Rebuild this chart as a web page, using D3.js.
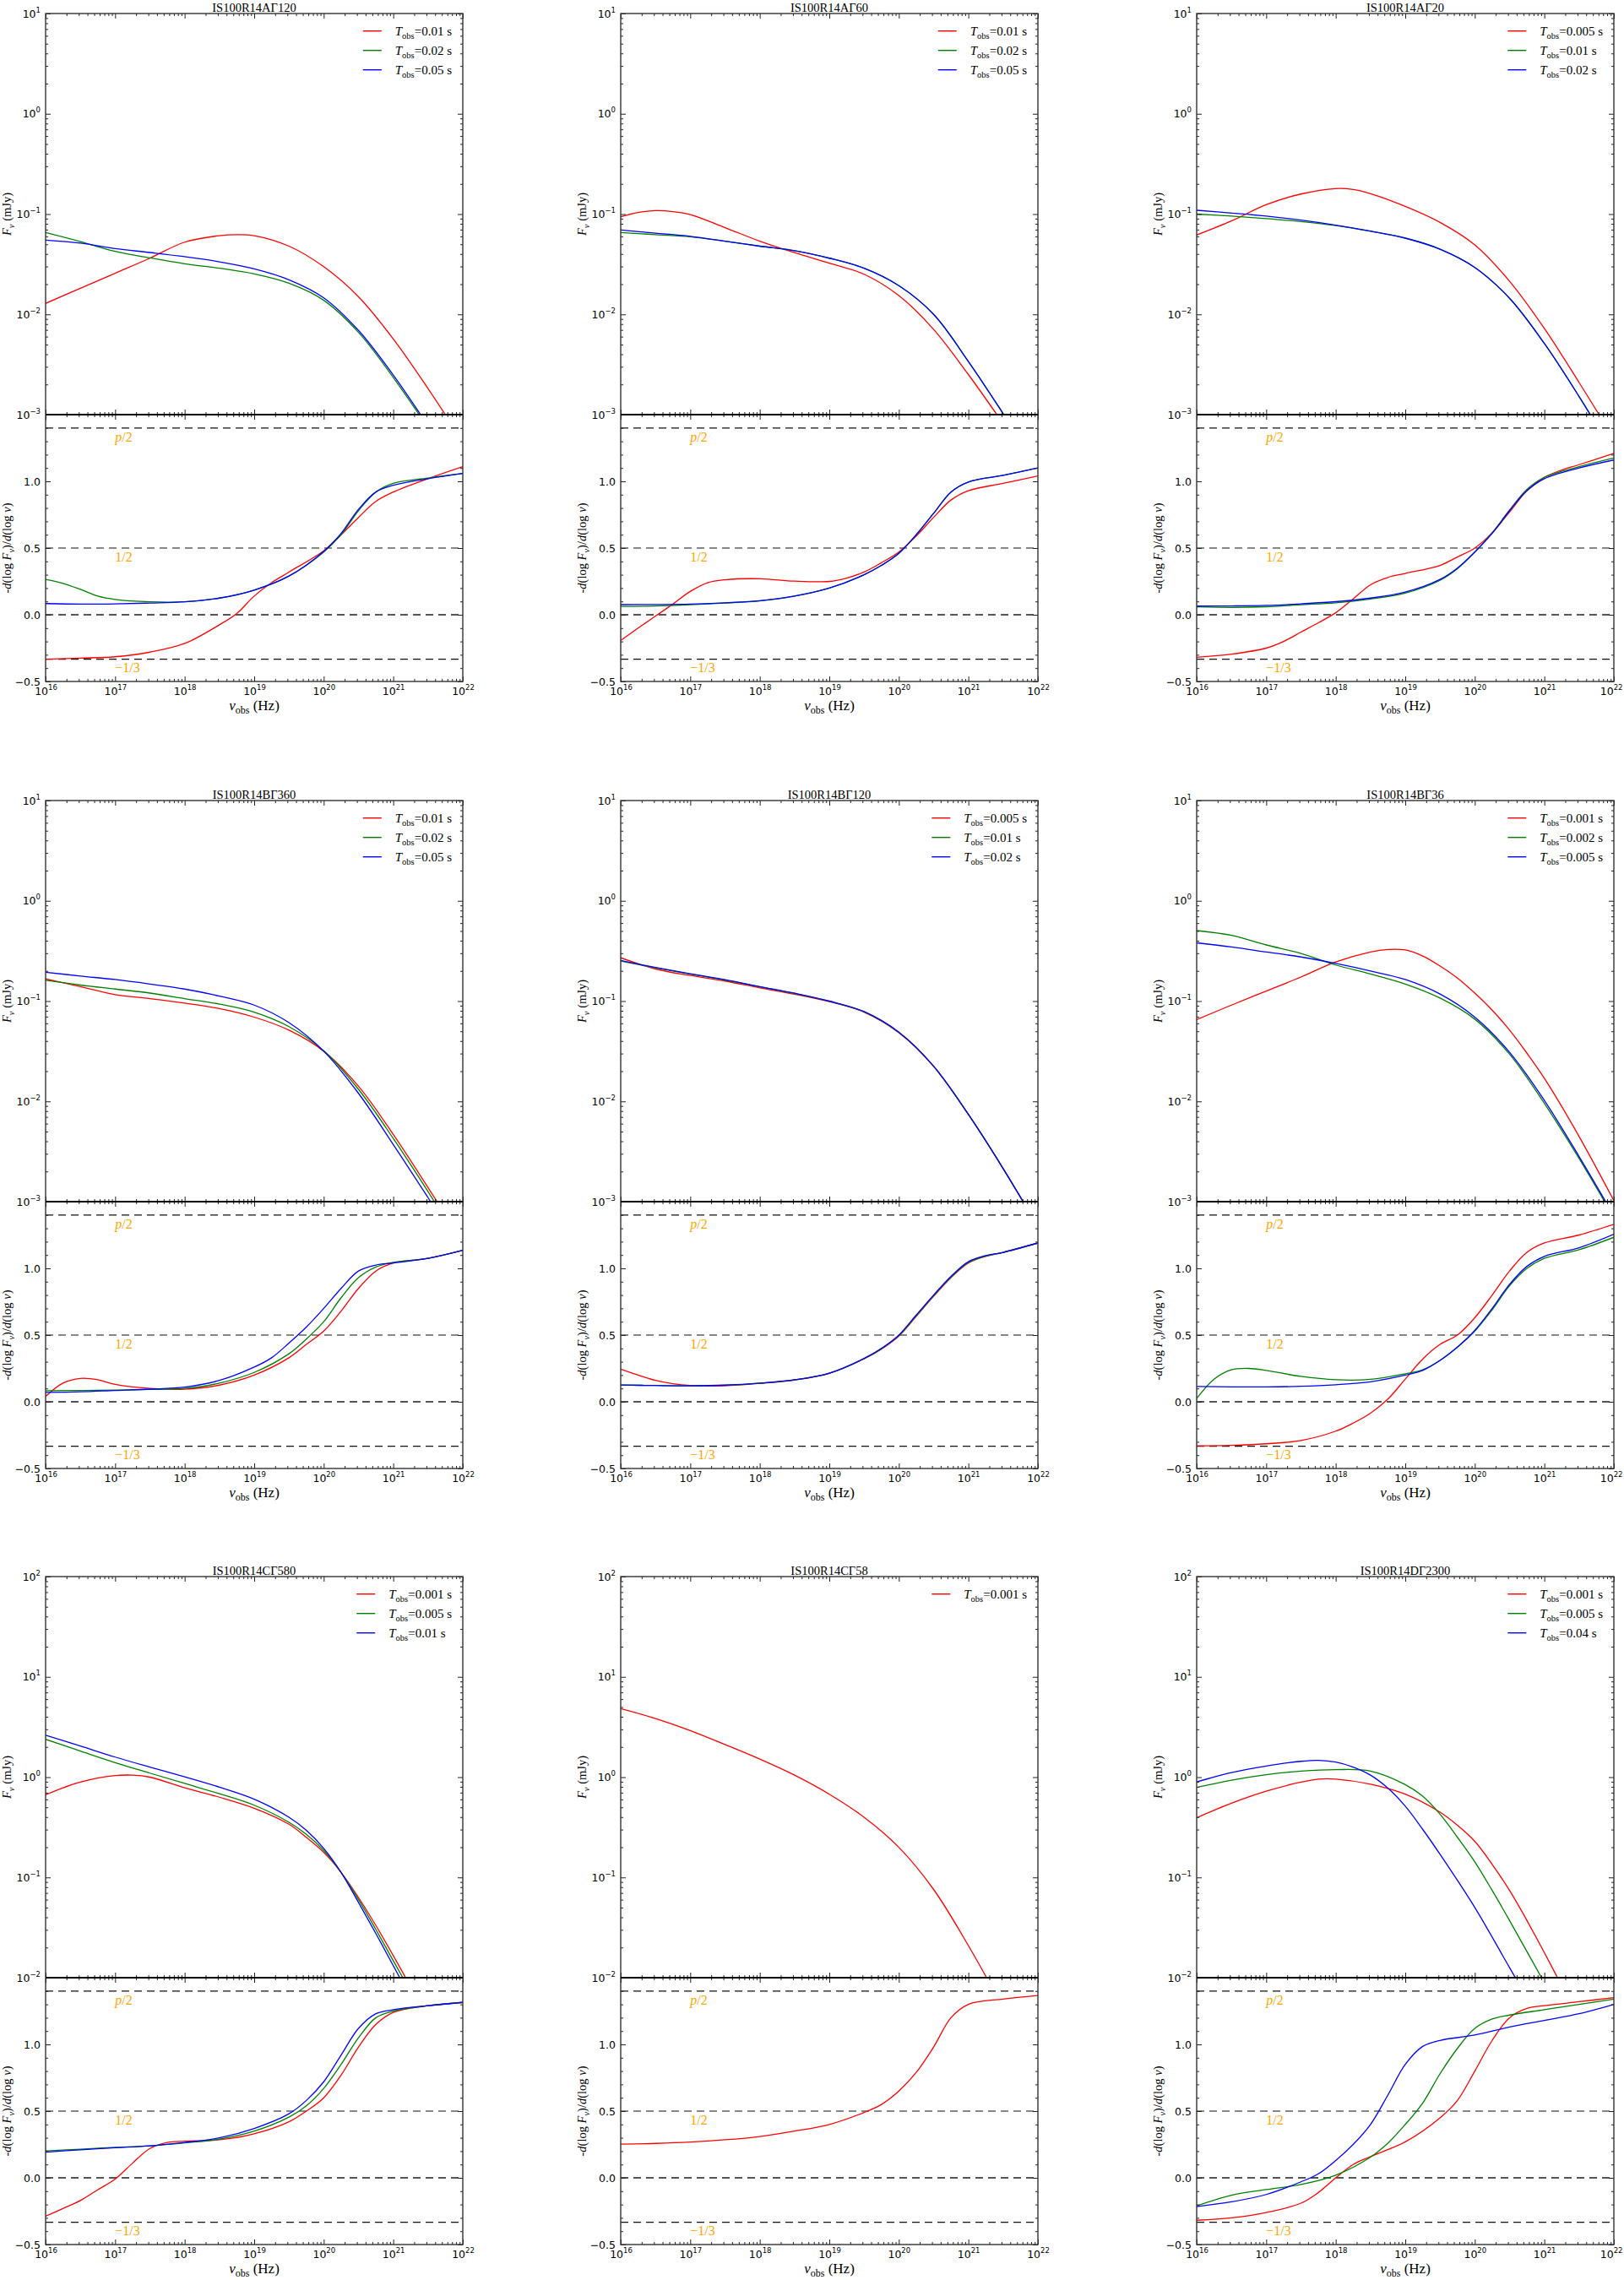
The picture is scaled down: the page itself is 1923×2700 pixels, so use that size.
<!DOCTYPE html>
<html><head><meta charset="utf-8">
<script src="https://cdn.jsdelivr.net/npm/d3@7"></script>
<style>body{margin:0;background:#fff}</style>
</head><body>
<svg id="c" width="1923" height="2700"></svg>
<script>
// ---------------- DATA ----------------
// each series: [log10(nu/Hz), value]; flux values are log10(F_nu / mJy)
const panelTitles = ["IS100R14A\u0393120","IS100R14A\u039360","IS100R14A\u039320",
  "IS100R14B\u0393360","IS100R14B\u0393120","IS100R14B\u039336",
  "IS100R14C\u0393580","IS100R14C\u039358","IS100R14D\u03932300"];
const panelTimes = [["0.01","0.02","0.05"],["0.01","0.02","0.05"],["0.005","0.01","0.02"],
  ["0.01","0.02","0.05"],["0.005","0.01","0.02"],["0.001","0.002","0.005"],
  ["0.001","0.005","0.01"],["0.001"],["0.001","0.005","0.04"]];
const fluxDomains = [[1e-3,1e1],[1e-3,1e1],[1e-3,1e1],[1e-3,1e1],[1e-3,1e1],[1e-3,1e1],[1e-2,1e2],[1e-2,1e2],[1e-2,1e2]];
const xTickExponents = [16,17,18,19,20,21,22];
const slopeTicks = [-0.5,0.0,0.5,1.0];
const refLineValues = [1.4, 0.5, 0.0, -1/3];
const refLineLabels = ["p/2","1/2","","\u22121/3"];
const seriesColors = ["#ff0000","#008000","#0000ff"];

const fluxA120 = [
 [[16,-1.891],[16.5,-1.74],[17,-1.59],[17.5,-1.44],[18,-1.28],[18.5,-1.215],[18.75,-1.205],[19,-1.215],[19.5,-1.32],[20,-1.525],[20.5,-1.825],[21,-2.245],[21.5,-2.74],[22,-3.27]],
 [[16,-1.184],[16.5,-1.274],[17,-1.372],[17.5,-1.437],[18,-1.496],[18.5,-1.54],[19,-1.597],[19.5,-1.69],[20,-1.86],[20.5,-2.18],[21,-2.63],[21.5,-3.13],[22,-3.65]],
 [[16,-1.26],[16.5,-1.29],[17,-1.344],[17.5,-1.383],[18,-1.425],[18.5,-1.476],[19,-1.546],[19.5,-1.655],[20,-1.835],[20.5,-2.16],[21,-2.605],[21.5,-3.11],[22,-3.63]]];
const slopeA120 = [
 [[16,-0.333],[16.5,-0.325],[17,-0.315],[17.5,-0.28],[18,-0.215],[18.5,-0.075],[18.75,0.01],[19,0.14],[19.25,0.24],[19.5,0.32],[20,0.48],[20.25,0.6],[20.5,0.73],[20.75,0.85],[21,0.92],[21.5,1.02],[22,1.11]],
 [[16,0.265],[16.25,0.235],[16.5,0.19],[16.75,0.14],[17,0.115],[17.5,0.097],[18,0.097],[18.5,0.125],[19,0.185],[19.5,0.29],[20,0.47],[20.25,0.6],[20.5,0.78],[20.75,0.92],[21,0.985],[21.5,1.025],[22,1.06]],
 [[16,0.084],[16.5,0.08],[17,0.082],[17.5,0.088],[18,0.097],[18.5,0.125],[19,0.185],[19.5,0.29],[20,0.475],[20.25,0.61],[20.5,0.79],[20.75,0.92],[21,0.97],[21.5,1.02],[22,1.06]]];

const fluxA60 = [
 [[16,-1.027],[16.25,-0.985],[16.5,-0.966],[16.75,-0.975],[17,-1.005],[17.5,-1.135],[18,-1.27],[18.5,-1.385],[19,-1.49],[19.5,-1.6],[20,-1.813],[20.5,-2.15],[21,-2.6],[21.5,-3.09],[22,-3.6]],
 [[16,-1.184],[16.5,-1.205],[17,-1.226],[17.5,-1.27],[18,-1.32],[18.5,-1.365],[19,-1.44],[19.5,-1.54],[20,-1.714],[20.5,-2.0],[21,-2.47],[21.5,-2.99],[22,-3.53]],
 [[16,-1.159],[16.5,-1.19],[17,-1.222],[17.5,-1.27],[18,-1.32],[18.5,-1.365],[19,-1.44],[19.5,-1.54],[20,-1.714],[20.5,-2.0],[21,-2.47],[21.5,-2.99],[22,-3.53]]];
const slopeA60 = [
 [[16,-0.193],[16.25,-0.1],[16.5,-0.01],[16.75,0.08],[17,0.175],[17.25,0.24],[17.5,0.262],[18,0.27],[18.5,0.252],[19,0.25],[19.25,0.275],[19.5,0.32],[19.75,0.39],[20,0.47],[20.25,0.59],[20.5,0.73],[20.75,0.86],[21,0.93],[21.5,0.985],[22,1.04]],
 [[16,0.063],[16.5,0.066],[17,0.075],[17.5,0.088],[18,0.104],[18.5,0.14],[19,0.2],[19.5,0.3],[19.75,0.37],[20,0.46],[20.25,0.6],[20.5,0.76],[20.75,0.92],[21,0.995],[21.5,1.045],[22,1.1]],
 [[16,0.076],[16.5,0.077],[17,0.08],[17.5,0.09],[18,0.105],[18.5,0.14],[19,0.2],[19.5,0.3],[19.75,0.37],[20,0.46],[20.25,0.6],[20.5,0.76],[20.75,0.92],[21,0.995],[21.5,1.045],[22,1.1]]];

const fluxA20 = [
 [[16,-1.209],[16.5,-1.069],[17,-0.906],[17.5,-0.8],[18,-0.746],[18.25,-0.755],[18.5,-0.796],[19,-0.923],[19.5,-1.083],[20,-1.307],[20.5,-1.67],[21,-2.14],[21.5,-2.68],[22,-3.24]],
 [[16,-1.0],[16.5,-1.02],[17,-1.045],[17.5,-1.075],[18,-1.115],[18.5,-1.172],[19,-1.24],[19.5,-1.35],[20,-1.532],[20.5,-1.84],[21,-2.29],[21.5,-2.82],[22,-3.39]],
 [[16,-0.962],[16.5,-0.99],[17,-1.02],[17.5,-1.06],[18,-1.11],[18.5,-1.17],[19,-1.24],[19.5,-1.35],[20,-1.532],[20.5,-1.84],[21,-2.29],[21.5,-2.82],[22,-3.39]]];
const slopeA20 = [
 [[16,-0.319],[16.5,-0.295],[17,-0.25],[17.25,-0.2],[17.5,-0.13],[17.75,-0.06],[18,0.015],[18.25,0.118],[18.5,0.225],[18.75,0.28],[19,0.31],[19.5,0.37],[19.75,0.433],[20,0.5],[20.25,0.615],[20.5,0.77],[20.75,0.93],[21,1.03],[21.25,1.085],[21.5,1.125],[22,1.21]],
 [[16,0.059],[16.5,0.055],[17,0.06],[17.5,0.075],[18,0.09],[18.5,0.118],[19,0.162],[19.5,0.258],[19.75,0.345],[20,0.47],[20.25,0.615],[20.5,0.785],[20.75,0.94],[21,1.03],[21.5,1.11],[22,1.175]],
 [[16,0.065],[16.5,0.066],[17,0.07],[17.5,0.082],[18,0.098],[18.5,0.125],[19,0.17],[19.5,0.265],[19.75,0.35],[20,0.47],[20.25,0.61],[20.5,0.78],[20.75,0.93],[21,1.02],[21.5,1.1],[22,1.16]]];

const fluxB360 = [
 [[16,-0.779],[16.5,-0.855],[17,-0.935],[17.5,-0.975],[18,-1.02],[18.5,-1.075],[19,-1.16],[19.5,-1.29],[20,-1.5],[20.5,-1.85],[21,-2.33],[21.5,-2.86],[22,-3.4]],
 [[16,-0.793],[16.5,-0.84],[17,-0.88],[17.5,-0.92],[18,-0.975],[18.5,-1.03],[19,-1.11],[19.5,-1.255],[20,-1.495],[20.5,-1.88],[21,-2.37],[21.5,-2.9],[22,-3.45]],
 [[16,-0.712],[16.5,-0.75],[17,-0.785],[17.5,-0.83],[18,-0.88],[18.5,-0.95],[19,-1.04],[19.5,-1.215],[20,-1.5],[20.5,-1.92],[21,-2.43],[21.5,-2.96],[22,-3.5]]];
const slopeB360 = [
 [[16,0.04],[16.25,0.14],[16.5,0.175],[16.75,0.165],[17,0.13],[17.5,0.1],[18,0.095],[18.5,0.125],[19,0.2],[19.5,0.33],[19.75,0.43],[20,0.53],[20.25,0.68],[20.5,0.85],[20.75,0.98],[21,1.04],[21.5,1.075],[22,1.135]],
 [[16,0.083],[16.5,0.085],[17,0.088],[17.5,0.092],[18,0.1],[18.5,0.14],[19,0.22],[19.5,0.36],[19.75,0.47],[20,0.6],[20.25,0.78],[20.5,0.93],[20.75,1.01],[21,1.045],[21.5,1.075],[22,1.135]],
 [[16,0.07],[16.5,0.075],[17,0.085],[17.5,0.095],[18,0.11],[18.5,0.16],[19,0.26],[19.25,0.33],[19.5,0.44],[19.75,0.56],[20,0.7],[20.25,0.85],[20.5,0.98],[20.75,1.025],[21,1.04],[21.5,1.075],[22,1.135]]];

const fluxB120 = [
 [[16,-0.568],[16.5,-0.68],[17,-0.745],[17.5,-0.8],[18,-0.868],[18.5,-0.932],[19,-1.006],[19.5,-1.11],[20,-1.315],[20.5,-1.65],[21,-2.13],[21.5,-2.67],[22,-3.25]],
 [[16,-0.6],[16.5,-0.668],[17,-0.731],[17.5,-0.79],[18,-0.858],[18.5,-0.924],[19,-1.002],[19.5,-1.107],[20,-1.312],[20.5,-1.65],[21,-2.13],[21.5,-2.67],[22,-3.25]],
 [[16,-0.595],[16.5,-0.665],[17,-0.728],[17.5,-0.787],[18,-0.855],[18.5,-0.922],[19,-1.0],[19.5,-1.105],[20,-1.31],[20.5,-1.65],[21,-2.13],[21.5,-2.67],[22,-3.25]]];
const slopeB120 = [
 [[16,0.245],[16.25,0.2],[16.5,0.16],[16.75,0.135],[17,0.122],[17.5,0.12],[18,0.138],[18.5,0.163],[19,0.213],[19.5,0.322],[19.75,0.395],[20,0.492],[20.25,0.64],[20.5,0.79],[20.75,0.93],[21,1.04],[21.25,1.09],[21.5,1.12],[22,1.19]],
 [[16,0.126],[16.5,0.122],[17,0.12],[17.5,0.124],[18,0.139],[18.5,0.164],[19,0.214],[19.5,0.323],[19.75,0.398],[20,0.496],[20.25,0.645],[20.5,0.795],[20.75,0.935],[21,1.045],[21.25,1.092],[21.5,1.12],[22,1.19]],
 [[16,0.126],[16.5,0.122],[17,0.12],[17.5,0.125],[18,0.14],[18.5,0.165],[19,0.215],[19.5,0.325],[19.75,0.4],[20,0.5],[20.25,0.65],[20.5,0.8],[20.75,0.94],[21,1.05],[21.25,1.095],[21.5,1.12],[22,1.19]]];

const fluxB36 = [
 [[16,-1.185],[16.5,-1.04],[17,-0.9],[17.5,-0.76],[18,-0.61],[18.5,-0.51],[18.75,-0.485],[19,-0.49],[19.25,-0.55],[19.5,-0.65],[19.75,-0.77],[20,-0.92],[20.25,-1.09],[20.5,-1.29],[20.75,-1.52],[21,-1.77],[21.5,-2.35],[22,-2.99]],
 [[16,-0.297],[16.5,-0.345],[17,-0.44],[17.5,-0.525],[18,-0.64],[18.5,-0.73],[19,-0.83],[19.5,-0.97],[20,-1.18],[20.5,-1.53],[21,-2.02],[21.5,-2.57],[22,-3.16]],
 [[16,-0.419],[16.5,-0.46],[17,-0.51],[17.5,-0.56],[18,-0.625],[18.5,-0.7],[19,-0.785],[19.5,-0.93],[20,-1.16],[20.5,-1.51],[21,-1.99],[21.5,-2.55],[22,-3.14]]];
const slopeB36 = [
 [[16,-0.33],[16.5,-0.327],[17,-0.315],[17.5,-0.29],[18,-0.22],[18.25,-0.16],[18.5,-0.085],[18.75,0.02],[19,0.17],[19.25,0.32],[19.5,0.43],[19.75,0.5],[20,0.63],[20.25,0.8],[20.5,0.98],[20.75,1.12],[21,1.19],[21.5,1.25],[22,1.33]],
 [[16,0.025],[16.25,0.17],[16.5,0.24],[16.75,0.25],[17,0.235],[17.5,0.19],[18,0.165],[18.5,0.168],[19,0.21],[19.25,0.24],[19.5,0.31],[19.75,0.41],[20,0.53],[20.25,0.69],[20.5,0.87],[20.75,1.0],[21,1.075],[21.5,1.14],[22,1.233]],
 [[16,0.115],[16.5,0.112],[17,0.112],[17.5,0.116],[18,0.128],[18.5,0.15],[19,0.2],[19.25,0.235],[19.5,0.31],[19.75,0.41],[20,0.535],[20.25,0.7],[20.5,0.88],[20.75,1.015],[21,1.09],[21.5,1.155],[22,1.256]]];

const fluxC580 = [
 [[16,-0.176],[16.5,-0.05],[17,0.015],[17.25,0.02],[17.5,0.0],[18,-0.107],[18.5,-0.2],[19,-0.31],[19.5,-0.47],[19.75,-0.6],[20,-0.75],[20.25,-0.95],[20.5,-1.2],[20.75,-1.48],[21,-1.78],[21.5,-2.4]],
 [[16,0.377],[16.5,0.26],[17,0.145],[17.5,0.04],[18,-0.063],[18.5,-0.165],[19,-0.28],[19.5,-0.45],[19.75,-0.57],[20,-0.73],[20.25,-0.95],[20.5,-1.22],[20.75,-1.52],[21,-1.83],[21.5,-2.45]],
 [[16,0.418],[16.5,0.31],[17,0.2],[17.5,0.1],[18,0.003],[18.5,-0.1],[19,-0.22],[19.5,-0.4],[19.75,-0.53],[20,-0.71],[20.25,-0.95],[20.5,-1.25],[20.75,-1.56],[21,-1.88],[21.5,-2.52]]];
const slopeC580 = [
 [[16,-0.288],[16.25,-0.23],[16.5,-0.17],[16.75,-0.09],[17,-0.01],[17.25,0.11],[17.5,0.22],[17.75,0.265],[18,0.275],[18.5,0.285],[19,0.33],[19.5,0.42],[19.75,0.5],[20,0.6],[20.25,0.77],[20.5,0.98],[20.75,1.15],[21,1.24],[21.5,1.29],[22,1.315]],
 [[16,0.202],[16.5,0.215],[17,0.228],[17.5,0.24],[18,0.262],[18.5,0.29],[19,0.35],[19.5,0.455],[19.75,0.54],[20,0.67],[20.25,0.85],[20.5,1.05],[20.75,1.2],[21,1.25],[21.5,1.29],[22,1.315]],
 [[16,0.192],[16.5,0.21],[17,0.225],[17.5,0.24],[18,0.265],[18.5,0.3],[19,0.37],[19.5,0.48],[19.75,0.58],[20,0.72],[20.25,0.92],[20.5,1.12],[20.75,1.23],[21,1.26],[21.5,1.29],[22,1.315]]];

const fluxC58 = [
 [[16,0.683],[16.5,0.585],[17,0.465],[17.5,0.325],[18,0.18],[18.5,0.02],[19,-0.17],[19.5,-0.4],[20,-0.7],[20.5,-1.12],[21,-1.68],[21.5,-2.3]]];
const slopeC58 = [
 [[16,0.253],[16.5,0.258],[17,0.268],[17.5,0.285],[18,0.31],[18.5,0.35],[19,0.4],[19.5,0.49],[19.75,0.55],[20,0.65],[20.25,0.79],[20.5,0.98],[20.75,1.2],[21,1.3],[21.5,1.34],[22,1.366]]];

const fluxD2300 = [
 [[16,-0.405],[16.5,-0.26],[17,-0.14],[17.5,-0.05],[17.75,-0.02],[18,-0.02],[18.5,-0.07],[19,-0.17],[19.5,-0.35],[19.75,-0.48],[20,-0.64],[20.25,-0.87],[20.5,-1.13],[20.75,-1.43],[21,-1.75],[21.25,-2.08],[21.5,-2.4]],
 [[16,-0.103],[16.5,-0.03],[17,0.025],[17.5,0.06],[18,0.075],[18.5,0.06],[19,-0.075],[19.25,-0.19],[19.5,-0.37],[19.75,-0.6],[20,-0.845],[20.25,-1.13],[20.5,-1.43],[20.75,-1.74],[21,-2.05],[21.5,-2.68]],
 [[16,-0.048],[16.5,0.045],[17,0.11],[17.5,0.158],[17.75,0.168],[18,0.15],[18.25,0.1],[18.5,0.02],[18.75,-0.11],[19,-0.29],[19.25,-0.52],[19.5,-0.77],[20,-1.3],[20.5,-1.9],[21,-2.5]]];
const slopeD2300 = [
 [[16,-0.318],[16.5,-0.3],[17,-0.26],[17.5,-0.19],[17.75,-0.11],[18,0.0],[18.25,0.1],[18.5,0.16],[19,0.27],[19.5,0.45],[19.75,0.58],[20,0.8],[20.25,1.03],[20.5,1.2],[20.75,1.27],[21,1.29],[21.5,1.32],[22,1.35]],
 [[16,-0.21],[16.5,-0.13],[17,-0.088],[17.5,-0.05],[18,0.02],[18.5,0.155],[18.75,0.26],[19,0.4],[19.25,0.56],[19.5,0.78],[19.75,0.97],[20,1.12],[20.25,1.19],[20.5,1.22],[21,1.26],[21.5,1.3],[22,1.34]],
 [[16,-0.216],[16.5,-0.18],[17,-0.125],[17.5,-0.03],[17.75,0.03],[18,0.13],[18.25,0.25],[18.5,0.4],[18.75,0.62],[19,0.85],[19.25,0.985],[19.5,1.03],[20,1.07],[20.5,1.13],[21,1.18],[21.5,1.23],[22,1.3]]];

const panelFlux = [fluxA120, fluxA60, fluxA20, fluxB360, fluxB120, fluxB36, fluxC580, fluxC58, fluxD2300];
const panelSlope = [slopeA120, slopeA60, slopeA20, slopeB360, slopeB120, slopeB36, slopeC580, slopeC58, slopeD2300];

// ---------------- LAYOUT ----------------
const W = 494, HT = 475, HB = 316;
const colX = [54, 735, 1417];
const rowY = [16, 948, 1867];
const PAGE_W = 1923;
const serif = "'Liberation Serif','DejaVu Serif',serif";
const sans = "'DejaVu Sans',sans-serif";
const TICK_FS = 12.5;

const svg = d3.select("#c");
const defs = svg.append("defs");

function rich(textSel, parts) {
  parts.forEach(p => {
    const t = textSel.append("tspan").text(p.t);
    if (p.it) t.attr("font-style", "italic");
    if (p.fs) t.attr("font-size", p.fs);
    if (p.dy !== undefined) t.attr("dy", p.dy);
  });
  return textSel;
}

function supLabels(g, fs) {
  g.selectAll(".tick text").each(function(d) {
    const e = Math.round(Math.log10(d));
    const t = d3.select(this);
    t.text("");
    t.append("tspan").text("10");
    t.append("tspan").text(e < 0 ? "\u2212" + (-e) : String(e))
      .attr("font-size", fs * 0.68).attr("dy", -fs * 0.48);
  });
}

function styleAxis(g) {
  g.select(".domain").remove();
  g.selectAll(".tick line").attr("stroke", "#222").attr("stroke-width", 1);
  g.selectAll(".tick text").attr("font-family", sans).attr("font-size", TICK_FS).attr("fill", "#000");
}

function decadeMinors(lo, hi) {
  const out = [];
  for (let e = lo; e < hi; e++) for (let k = 2; k <= 9; k++) out.push(k * Math.pow(10, e));
  return out;
}

panelTitles.forEach((title, pi) => {
  const col = pi % 3, row = Math.floor(pi / 3);
  const x0 = colX[col], y0 = rowY[row];
  const g = svg.append("g").attr("transform", `translate(${x0},${y0})`);

  const x = d3.scaleLog().domain([1e16, 1e22]).range([0, W]);
  const dom = fluxDomains[pi];
  const yF = d3.scaleLog().domain(dom).range([HT, 0]);
  const yS = d3.scaleLinear().domain([-0.5, 1.5]).range([HT + HB, HT]);

  const xMaj = xTickExponents.map(e => Math.pow(10, e));
  const xMin = decadeMinors(16, 22);
  const eLo = Math.round(Math.log10(dom[0])), eHi = Math.round(Math.log10(dom[1]));
  const yMaj = d3.range(eLo, eHi + 1).map(e => Math.pow(10, e));
  const yMin = decadeMinors(eLo, eHi);
  const sMin = d3.range(-5, 15).map(i => i / 10).filter(v => slopeTicks.indexOf(v) < 0);

  const cidT = "clipT" + pi, cidB = "clipB" + pi;
  defs.append("clipPath").attr("id", cidT).append("rect").attr("x", 0).attr("y", 0).attr("width", W).attr("height", HT);
  defs.append("clipPath").attr("id", cidB).append("rect").attr("x", 0).attr("y", HT).attr("width", W).attr("height", HB);

  // reference dashed lines (bottom subplot)
  const refG = g.append("g").attr("clip-path", `url(#${cidB})`);
  refLineValues.forEach((v) => {
    refG.append("line").attr("x1", 0).attr("x2", W).attr("y1", yS(v)).attr("y2", yS(v))
      .attr("stroke", v === 0 ? "#555" : "#111").attr("stroke-width", v === 0 ? 2 : 1.2)
      .attr("stroke-dasharray", "9,6");
  });
  refLineValues.forEach((v, i) => {
    const lab = refLineLabels[i];
    if (!lab) return;
    const t = g.append("text").attr("x", x(1e17)).attr("y", yS(v - 0.1))
      .attr("font-family", serif).attr("font-size", 16).attr("fill", "#FFA500");
    if (lab === "p/2") rich(t, [{t: "p", it: true}, {t: "/2"}]);
    else t.text(lab);
  });

  // curves
  const curve = d3.curveCatmullRom.alpha(0.5);
  const lineF = d3.line().x(d => x(Math.pow(10, d[0]))).y(d => yF(Math.pow(10, d[1]))).curve(curve);
  const lineS = d3.line().x(d => x(Math.pow(10, d[0]))).y(d => yS(d[1])).curve(curve);
  const gT = g.append("g").attr("clip-path", `url(#${cidT})`);
  const gB = g.append("g").attr("clip-path", `url(#${cidB})`);
  panelFlux[pi].forEach((s, si) => {
    gT.append("path").attr("d", lineF(s)).attr("fill", "none").attr("stroke", seriesColors[si]).attr("stroke-width", 1.3);
  });
  panelSlope[pi].forEach((s, si) => {
    gB.append("path").attr("d", lineS(s)).attr("fill", "none").attr("stroke", seriesColors[si]).attr("stroke-width", 1.3);
  });

  // x axes: top, divider (both sides), bottom
  const mkX = (gen, vals, size, yPos, labels) => {
    const a = g.append("g").attr("transform", `translate(0,${yPos})`)
      .call(gen(x).tickValues(vals).tickSizeInner(size).tickSizeOuter(0).tickPadding(7).tickFormat(labels ? (d => d) : () => ""));
    styleAxis(a);
    if (labels) supLabels(a, TICK_FS);
    return a;
  };
  mkX(d3.axisTop, xMaj, -6, 0, false); mkX(d3.axisTop, xMin, -3, 0, false);
  mkX(d3.axisBottom, xMaj, -6, HT, false); mkX(d3.axisBottom, xMin, -3, HT, false);
  mkX(d3.axisTop, xMaj, -6, HT, false); mkX(d3.axisTop, xMin, -3, HT, false);
  const xb = mkX(d3.axisBottom, xMaj, -6, HT + HB, true); mkX(d3.axisBottom, xMin, -3, HT + HB, false);
  // keep the last tick label inside the page
  xb.selectAll(".tick text").each(function() {
    const bb = this.getBBox();
    const t = d3.select(this);
    const right = x0 + (+d3.select(this.parentNode).attr("transform").match(/translate\(([-\d.]+)/)[1]) + bb.x + bb.width;
    if (right > PAGE_W - 1) t.attr("dx", -(right - PAGE_W + 1.5));
  });

  // y axes, flux subplot
  const aFL = g.append("g").call(d3.axisLeft(yF).tickValues(yMaj).tickSizeInner(-6).tickSizeOuter(0).tickPadding(6).tickFormat(d => d));
  styleAxis(aFL); supLabels(aFL, TICK_FS);
  styleAxis(g.append("g").call(d3.axisLeft(yF).tickValues(yMin).tickSizeInner(-3).tickSizeOuter(0).tickFormat(() => "")));
  styleAxis(g.append("g").attr("transform", `translate(${W},0)`).call(d3.axisRight(yF).tickValues(yMaj).tickSizeInner(-6).tickSizeOuter(0).tickFormat(() => "")));
  styleAxis(g.append("g").attr("transform", `translate(${W},0)`).call(d3.axisRight(yF).tickValues(yMin).tickSizeInner(-3).tickSizeOuter(0).tickFormat(() => "")));

  // y axes, slope subplot
  const aSL = g.append("g").call(d3.axisLeft(yS).tickValues(slopeTicks).tickSizeInner(-6).tickSizeOuter(0).tickPadding(6)
    .tickFormat(d => (d < 0 ? "\u2212" : "") + Math.abs(d).toFixed(1)));
  styleAxis(aSL);
  styleAxis(g.append("g").call(d3.axisLeft(yS).tickValues(sMin).tickSizeInner(-3).tickSizeOuter(0).tickFormat(() => "")));
  styleAxis(g.append("g").attr("transform", `translate(${W},0)`).call(d3.axisRight(yS).tickValues(slopeTicks).tickSizeInner(-6).tickSizeOuter(0).tickFormat(() => "")));
  styleAxis(g.append("g").attr("transform", `translate(${W},0)`).call(d3.axisRight(yS).tickValues(sMin).tickSizeInner(-3).tickSizeOuter(0).tickFormat(() => "")));

  // frames
  g.append("rect").attr("x", 0).attr("y", 0).attr("width", W).attr("height", HT + HB)
    .attr("fill", "none").attr("stroke", "#333").attr("stroke-width", 1.4);
  g.append("line").attr("x1", 0).attr("x2", W).attr("y1", HT).attr("y2", HT).attr("stroke", "#000").attr("stroke-width", 2);

  // title
  g.append("text").attr("x", W / 2).attr("y", -2.5).attr("text-anchor", "middle")
    .attr("font-family", serif).attr("font-size", 14.5).text(title);

  // y labels
  const yl1 = g.append("text").attr("transform", `translate(-41,${HT / 2}) rotate(-90)`).attr("text-anchor", "middle")
    .attr("font-family", serif).attr("font-size", 14.5);
  rich(yl1, [{t: "F", it: true}, {t: "\u03bd", it: true, fs: 10.5, dy: 4}, {t: " (mJy)", dy: -4}]);
  const yl2 = g.append("text").attr("transform", `translate(-41,${HT + HB / 2}) rotate(-90)`).attr("text-anchor", "middle")
    .attr("font-family", serif).attr("font-size", 14.5);
  rich(yl2, [{t: "-"}, {t: "d", it: true}, {t: "(log "}, {t: "F", it: true}, {t: "\u03bd", it: true, fs: 10.5, dy: 4},
    {t: ")/", dy: -4}, {t: "d", it: true}, {t: "(log "}, {t: "\u03bd", it: true}, {t: ")"}]);

  // x label
  const xl = g.append("text").attr("x", W / 2).attr("y", HT + HB + 34).attr("text-anchor", "middle")
    .attr("font-family", serif).attr("font-size", 17);
  rich(xl, [{t: "\u03bd", it: true}, {t: "obs", fs: 12, dy: 3.5}, {t: " (Hz)", dy: -3.5}]);

  // legend (upper right, no frame)
  const times = panelTimes[pi];
  const texts = times.map((tv, i) => {
    const t = g.append("text").attr("y", 20.7 + 23 * i).attr("dy", "0.35em")
      .attr("font-family", serif).attr("font-size", 15);
    rich(t, [{t: "T", it: true}, {t: "obs", fs: 10.5, dy: 4}, {t: "=" + tv + " s", dy: -4}]);
    return t;
  });
  const maxW = d3.max(texts, t => t.node().getComputedTextLength());
  const textLeft = W - 13 - maxW;
  texts.forEach((t, i) => {
    t.attr("x", textLeft);
    g.append("line").attr("x1", textLeft - 38).attr("x2", textLeft - 16)
      .attr("y1", 20.7 + 23 * i).attr("y2", 20.7 + 23 * i)
      .attr("stroke", seriesColors[i]).attr("stroke-width", 1.4);
  });
});
</script>
</body></html>
